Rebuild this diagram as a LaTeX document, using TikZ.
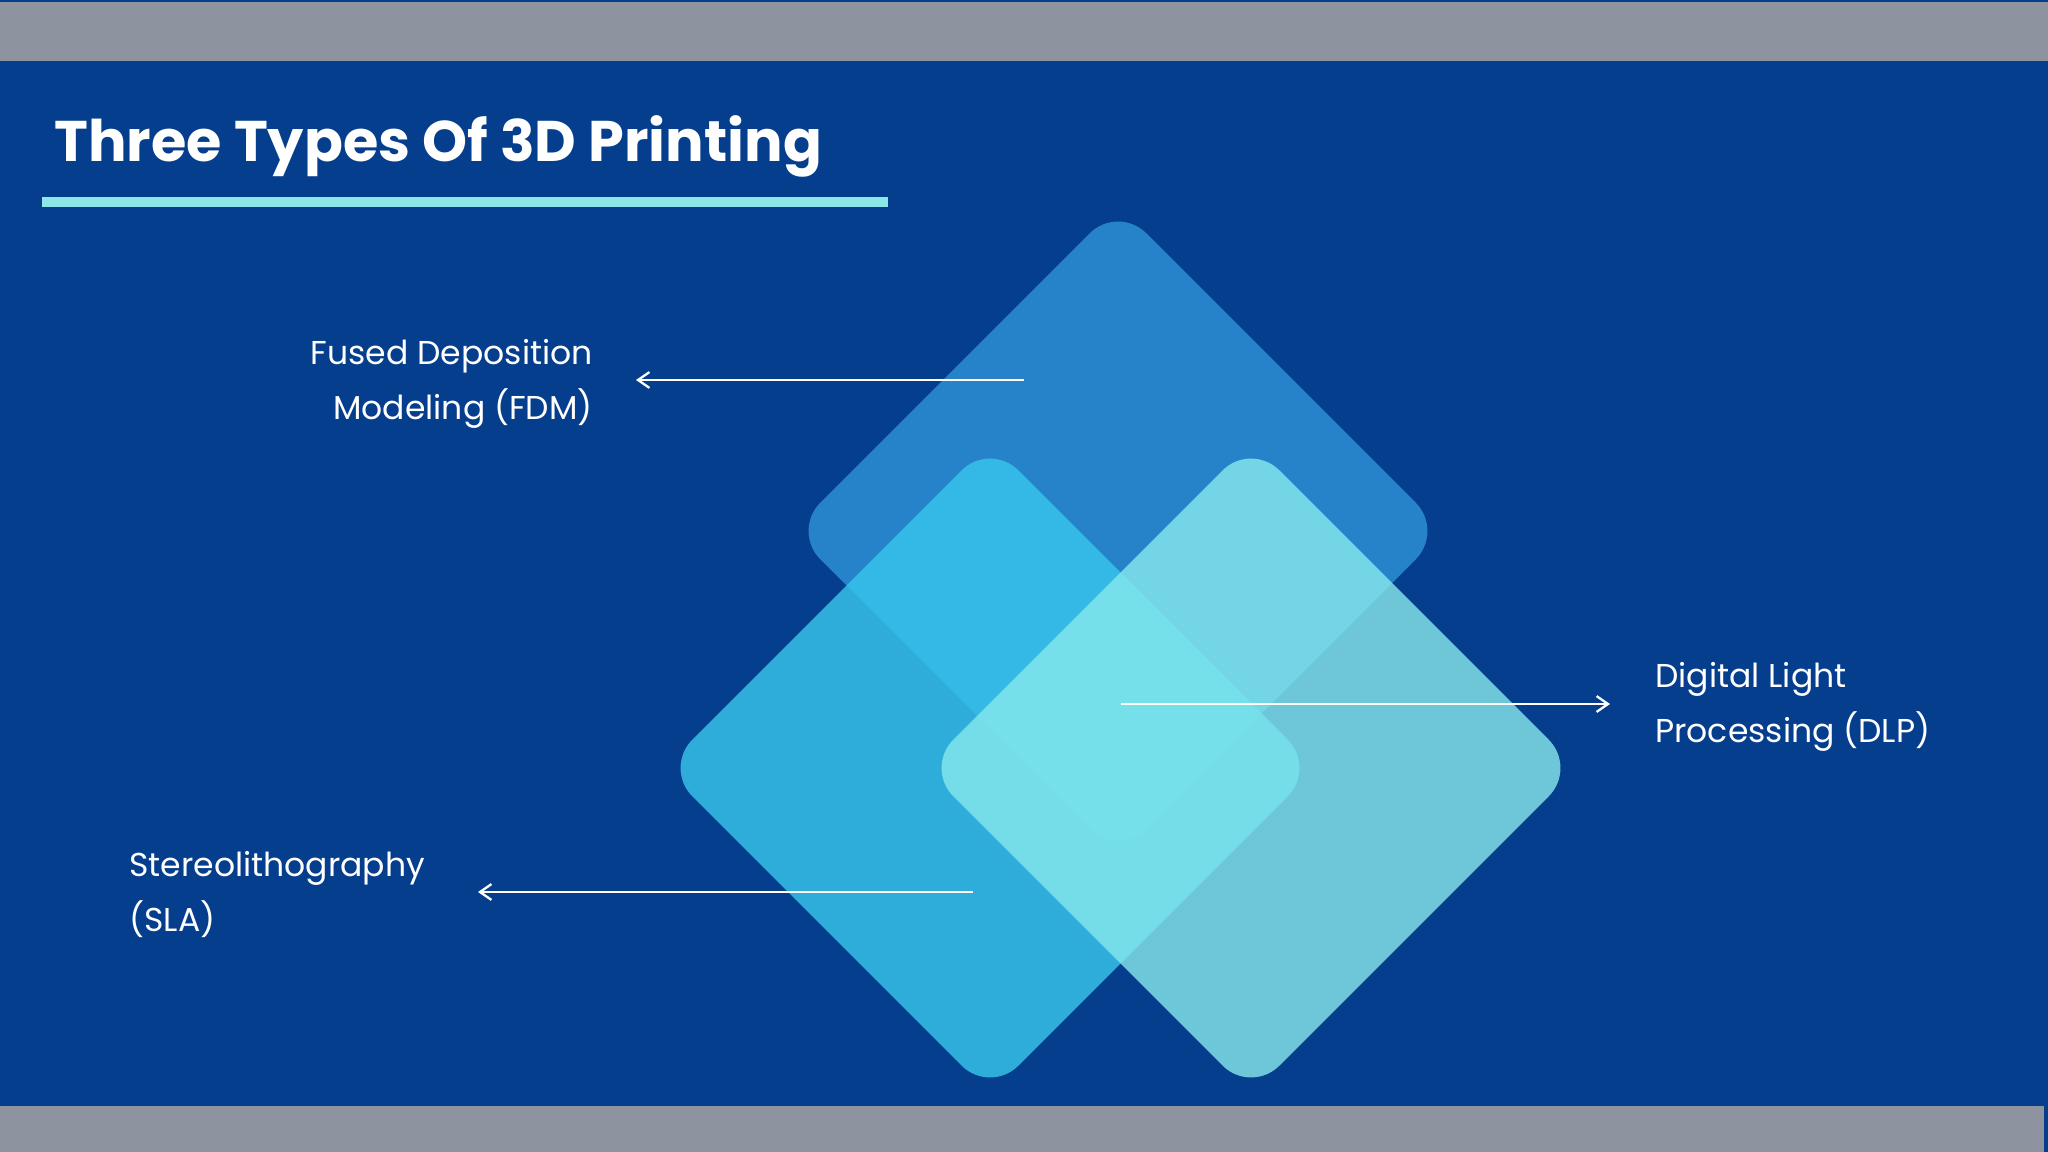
\documentclass[tikz,border=0pt]{standalone}
\usepackage{fontspec}
\setmainfont{Poppins}
\usetikzlibrary{arrows.meta, positioning}
\definecolor{slidebg}{HTML}{063E8E}
\definecolor{bargray}{HTML}{8D94A0}
\definecolor{rulecyan}{HTML}{8CE8E8}
\definecolor{fdmblue}{HTML}{2783C9}
\definecolor{slablue}{HTML}{37C6ED}
\definecolor{dlpcyan}{HTML}{87EAEC}
\tikzset{
    tile/.style = {rounded corners=8mm},
    caption/.style = {text=white, inner sep=0pt, font=\fontsize{18.8}{31.5}\selectfont},
    pointer/.style = {draw=white, line width=1.3pt, -{Straight Barb[length=6.5pt, width=9pt]}}
}

\begin{document}
\begin{tikzpicture}[x=0.2mm, y=-0.2mm]
    % Fond
    \fill[slidebg] (0,0) rectangle (2048,1152);
    \fill[bargray] (0,2) rectangle (2048,61);
    \fill[bargray] (0,1106) rectangle (2044,1152);
    \useasboundingbox (0,0) rectangle (2048,1152);

    % Titre
    \node[anchor=base west, inner sep=0pt, text=white, font=\bfseries\fontsize{32.6}{38}\selectfont] (title) at (54,162) {Three Types Of 3D Printing};
    \fill[rulecyan] (42,197) rectangle (888,207);

    % Losanges
    \foreach \cx/\cy/\col/\op in {1118/531/fdmblue/1, 990/768/slablue/0.82, 1251/768/dlpcyan/0.8}
        \fill[tile, \col, opacity=\op] (\cx,\cy) ++(0,-326) -- ++(326,326) -- ++(-326,326) -- ++(-326,-326) -- cycle;

    % Fleches
    \coordinate (fdmfrom) at (1024,380);
    \coordinate (fdmto) at (636,380);
    \coordinate (slafrom) at (973,892);
    \coordinate (slato) at (478,892);
    \coordinate (dlpfrom) at (1121,704);
    \coordinate (dlpto) at (1610,704);

    \node[caption, align=right, left=8.6mm of fdmto, yshift=-0.8mm] (fdm) {Fused Deposition\\Modeling (FDM)};
    \node[caption, align=left, anchor=west, yshift=-0.5mm] (sla) at (129,892) {Stereolithography\\(SLA)};
    \node[caption, align=left, right=9mm of dlpto, yshift=-0.6mm] (dlp) {Digital Light\\Processing (DLP)};

    \draw[pointer] (fdmfrom) -- (fdmto);
    \draw[pointer] (slafrom) -- (slato);
    \draw[pointer] (dlpfrom) -- (dlpto);
\end{tikzpicture}
\end{document}
